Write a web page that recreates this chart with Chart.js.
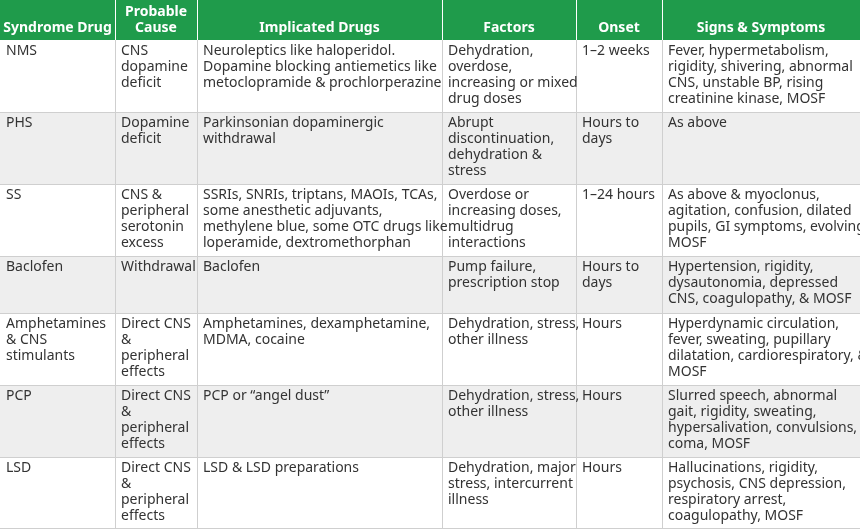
<!DOCTYPE html>
<html>
<head>
<meta charset="utf-8">
<script src="https://cdn.jsdelivr.net/npm/chart.js@4"></script>
<style>html,body{margin:0;padding:0;background:#fff}</style>
</head>
<body>
<canvas id="tbl" width="860" height="532"></canvas>
<script>
// Encabezados y contenido de la tabla
const headers = [['Syndrome Drug'], ['Probable', 'Cause'], ['Implicated Drugs'], ['Factors'], ['Onset'], ['Signs & Symptoms']];
const colEdges = [0, 115, 197, 442, 576, 662, 860];
const rowEdges = [0, 40, 112, 184, 256, 313, 385, 457, 528];

const syndromes = [['NMS'], ['PHS'], ['SS'], ['Baclofen'], ['Amphetamines', '& CNS', 'stimulants'], ['PCP'], ['LSD']];
const causes = [
  ['CNS', 'dopamine', 'deficit'], ['Dopamine', 'deficit'], ['CNS &', 'peripheral', 'serotonin', 'excess'], ['Withdrawal'],
  ['Direct CNS', '&', 'peripheral', 'effects'], ['Direct CNS', '&', 'peripheral', 'effects'], ['Direct CNS', '&', 'peripheral', 'effects']
];
const drugs = [
  ['Neuroleptics like haloperidol.', 'Dopamine blocking antiemetics like', 'metoclopramide & prochlorperazine'],
  ['Parkinsonian dopaminergic', 'withdrawal'],
  ['SSRIs, SNRIs, triptans, MAOIs, TCAs,', 'some anesthetic adjuvants,', 'methylene blue, some OTC drugs like', 'loperamide, dextromethorphan'],
  ['Baclofen'],
  ['Amphetamines, dexamphetamine,', 'MDMA, cocaine'],
  ['PCP or \u201cangel dust\u201d'],
  ['LSD & LSD preparations']
];
const factors = [
  ['Dehydration,', 'overdose,', 'increasing or mixed', 'drug doses'],
  ['Abrupt', 'discontinuation,', 'dehydration &', 'stress'],
  ['Overdose or', 'increasing doses,', 'multidrug', 'interactions'],
  ['Pump failure,', 'prescription stop'],
  ['Dehydration, stress,', 'other illness'],
  ['Dehydration, stress,', 'other illness'],
  ['Dehydration, major', 'stress, intercurrent', 'illness']
];
const onsets = [['1\u20132 weeks'], ['Hours to', 'days'], ['1\u201324 hours'], ['Hours to', 'days'], ['Hours'], ['Hours'], ['Hours']];
const signs = [
  ['Fever, hypermetabolism,', 'rigidity, shivering, abnormal', 'CNS, unstable BP, rising', 'creatinine kinase, MOSF'],
  ['As above'],
  ['As above & myoclonus,', 'agitation, confusion, dilated', 'pupils, GI symptoms, evolving', 'MOSF'],
  ['Hypertension, rigidity,', 'dysautonomia, depressed', 'CNS, coagulopathy, & MOSF'],
  ['Hyperdynamic circulation,', 'fever, sweating, pupillary', 'dilatation, cardiorespiratory, &', 'MOSF'],
  ['Slurred speech, abnormal', 'gait, rigidity, sweating,', 'hypersalivation, convulsions,', 'coma, MOSF'],
  ['Hallucinations, rigidity,', 'psychosis, CNS depression,', 'respiratory arrest,', 'coagulopathy, MOSF']
];
const columns = [syndromes, causes, drugs, factors, onsets, signs];

const FONT = '"Noto Sans", sans-serif';

// Plugin que dibuja las celdas usando las escalas del gráfico
const tablePlugin = {
  id: 'tablePlugin',
  beforeDatasetsDraw(chart) {
    const ctx = chart.ctx;
    const xs = chart.scales.x, ys = chart.scales.y;
    const px = v => xs.getPixelForValue(v);
    const py = v => ys.getPixelForValue(v);
    ctx.save();

    // Filas
    for (let r = 0; r < rowEdges.length - 1; r++) {
      const y0 = py(rowEdges[r]), y1 = py(rowEdges[r + 1]);
      ctx.fillStyle = r === 0 ? '#1f9b4b' : (r % 2 === 0 ? '#eeeeee' : '#ffffff');
      ctx.fillRect(px(colEdges[0]), y0, px(colEdges[colEdges.length - 1]) - px(colEdges[0]), y1 - y0);
    }

    // Líneas
    ctx.lineWidth = 1;
    for (let c = 1; c < colEdges.length - 1; c++) {
      const x = Math.round(px(colEdges[c])) + 0.5;
      ctx.strokeStyle = '#ffffff';
      ctx.beginPath(); ctx.moveTo(x, py(rowEdges[0])); ctx.lineTo(x, py(rowEdges[1])); ctx.stroke();
      ctx.strokeStyle = '#cfcfcf';
      ctx.beginPath(); ctx.moveTo(x, py(rowEdges[1])); ctx.lineTo(x, py(rowEdges[rowEdges.length - 1])); ctx.stroke();
    }
    ctx.strokeStyle = '#cfcfcf';
    for (let r = 2; r < rowEdges.length; r++) {
      const y = Math.round(py(rowEdges[r])) + 0.5;
      ctx.beginPath(); ctx.moveTo(px(colEdges[0]), y); ctx.lineTo(px(colEdges[colEdges.length - 1]), y); ctx.stroke();
    }

    // Encabezados (alineados abajo, como en el original)
    ctx.fillStyle = '#ffffff';
    ctx.font = 'bold 14px ' + FONT;
    ctx.textAlign = 'center';
    ctx.textBaseline = 'middle';
    headers.forEach((lines, c) => {
      const cx = (px(colEdges[c]) + px(colEdges[c + 1])) / 2;
      const bottom = py(rowEdges[1]) - 12;
      lines.forEach((t, i) => ctx.fillText(t, cx, bottom - (lines.length - 1 - i) * 16));
    });

    // Cuerpo
    ctx.fillStyle = '#333333';
    ctx.font = '14px ' + FONT;
    ctx.textAlign = 'left';
    ctx.textBaseline = 'top';
    columns.forEach((col, c) => {
      col.forEach((lines, r) => {
        const x = px(colEdges[c]) + 6;
        const y = py(rowEdges[r + 1]) + 4;
        lines.forEach((t, i) => ctx.fillText(t, x, y + i * 16));
      });
    });
    ctx.restore();
  }
};

new Chart(document.getElementById('tbl'), {
  type: 'scatter',
  data: { datasets: [{ data: [] }] },
  options: {
    responsive: false,
    animation: false,
    layout: { padding: 0 },
    plugins: { legend: { display: false }, tooltip: { enabled: false } },
    scales: {
      x: { type: 'linear', min: 0, max: 860, display: false },
      y: { type: 'linear', min: 0, max: 532, reverse: true, display: false }
    }
  },
  plugins: [tablePlugin]
});
</script>
</body>
</html>
